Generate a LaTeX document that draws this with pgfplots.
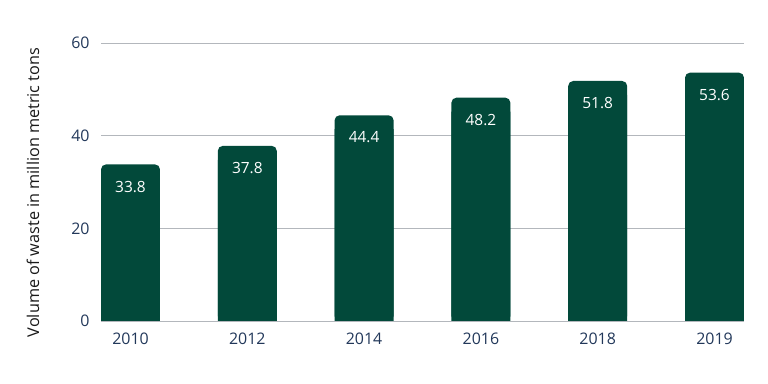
\documentclass[border=0pt]{standalone}
\usepackage{fontspec}
\setmainfont{Open Sans}
\usepackage{pgfplots}
\usepackage{pgfplotstable}
\pgfplotsset{compat=1.18}
\definecolor{barc}{HTML}{02493A}
\definecolor{tickc}{HTML}{22385A}
\definecolor{gridc}{HTML}{B3B7BC}
\pgfplotstableread{
x v
0 33.8
1 37.8
2 44.4
3 48.2
4 51.8
5 53.6
}\data
\begin{document}
\begin{tikzpicture}
\path[use as bounding box] (0,0) rectangle (768bp,384bp);
\begin{axis}[
  at={(101bp,63bp)}, anchor=south west,
  scale only axis, width=643bp, height=278bp,
  xmin=-0.2526, xmax=5.2526, ymin=0, ymax=60,
  axis line style={draw=none},
  ytick={0,20,40,60}, xtick={0,1,2,3,4,5},
  xticklabels={2010,2012,2014,2016,2018,2019},
  ymajorgrids, grid style={gridc, line width=1bp},
  major tick length=0pt, tick style={draw=none},
  tick label style={font=\fontsize{16}{18}\selectfont, text=tickc},
  /pgf/number format/assume math mode=true,
  yticklabel style={xshift=-8bp},
  xticklabel style={yshift=-8bp},
  clip=false,
]
\addplot[ybar, bar width=0.505, bar shift=0pt, fill=barc, draw=none, rounded corners=5bp,
  nodes near coords, nodes near coords align={below},
  every node near coord/.append style={font=\fontsize{15.5}{17}\selectfont, text=white, yshift=-13bp},
  point meta=explicit symbolic] table[x=x, y=v, meta=v] {\data};
\addplot[ybar, bar width=0.505, bar shift=0pt, fill=barc, draw=none] table[x=x, y expr=\thisrow{v}-3] {\data};
\draw[gridc, line width=1bp] (axis cs:-0.2526,0) -- (axis cs:5.2526,0);
\end{axis}
\node[rotate=90, font=\fontsize{16.3}{18}\selectfont, text=black!90] at (33bp,191.5bp) {Volume of waste in million metric tons};
\end{tikzpicture}
\end{document}
